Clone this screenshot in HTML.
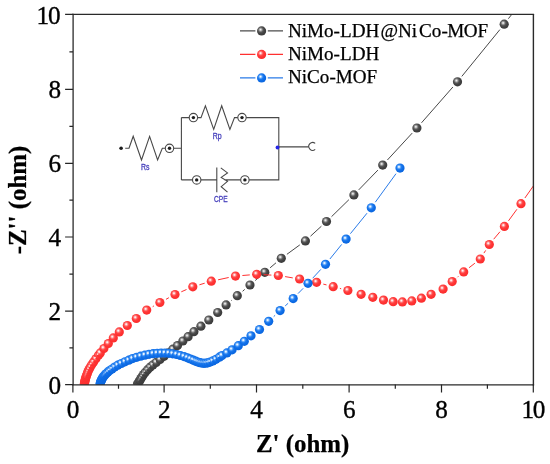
<!DOCTYPE html>
<html><head><meta charset="utf-8"><title>EIS Nyquist plot</title>
<style>
html,body{margin:0;padding:0;background:#fff;}
svg{display:block;}
</style></head><body>
<svg width="550" height="464" viewBox="0 0 550 464">
<defs>
<radialGradient id="gk" cx="0.41" cy="0.39" r="0.66" fx="0.38" fy="0.36">
<stop offset="0" stop-color="#f4f4f4"/><stop offset="0.1" stop-color="#dcdcdc"/><stop offset="0.24" stop-color="#9a9a9a"/><stop offset="0.42" stop-color="#585858"/><stop offset="0.65" stop-color="#424242"/><stop offset="1" stop-color="#3a3a3a"/>
</radialGradient>
<radialGradient id="gr" cx="0.41" cy="0.39" r="0.66" fx="0.38" fy="0.36">
<stop offset="0" stop-color="#ffffff"/><stop offset="0.1" stop-color="#ffe2e2"/><stop offset="0.24" stop-color="#ff8a8a"/><stop offset="0.42" stop-color="#ff4444"/><stop offset="0.65" stop-color="#ff3232"/><stop offset="1" stop-color="#f92d2d"/>
</radialGradient>
<radialGradient id="gb" cx="0.41" cy="0.39" r="0.66" fx="0.38" fy="0.36">
<stop offset="0" stop-color="#ffffff"/><stop offset="0.1" stop-color="#dcecff"/><stop offset="0.24" stop-color="#6fb0fa"/><stop offset="0.42" stop-color="#1f7cef"/><stop offset="0.65" stop-color="#0d6ce6"/><stop offset="1" stop-color="#0b65dd"/>
</radialGradient>
<clipPath id="cp"><rect x="73.0" y="14.2" width="460.3" height="370.3"/></clipPath>
</defs>
<rect width="550" height="464" fill="#fff"/>
<g clip-path="url(#cp)">
<path d="M231.4 300.5L232.0 300.1M242.6 291.3L244.7 289.4M255.2 280.5L259.6 276.8M270.1 267.8L276.0 262.8M286.9 254.3L299.8 244.9M310.5 236.2L321.4 226.2M331.5 216.7L348.9 199.7M358.7 189.9L377.9 170.1M387.4 160.0L412.2 133.1M421.5 122.8L452.9 87.0M461.8 76.4L499.9 29.6M508.4 18.7L550.0 -34.8" stroke="#484848" stroke-width="1.0" fill="none"/>
<circle cx="137.4" cy="384.6" r="4.6" fill="url(#gk)"/>
<circle cx="137.9" cy="383.7" r="4.6" fill="url(#gk)"/>
<circle cx="138.5" cy="382.7" r="4.6" fill="url(#gk)"/>
<circle cx="139.2" cy="381.6" r="4.6" fill="url(#gk)"/>
<circle cx="140.0" cy="380.2" r="4.6" fill="url(#gk)"/>
<circle cx="140.9" cy="378.6" r="4.6" fill="url(#gk)"/>
<circle cx="142.1" cy="376.8" r="4.6" fill="url(#gk)"/>
<circle cx="143.5" cy="374.6" r="4.6" fill="url(#gk)"/>
<circle cx="145.3" cy="372.3" r="4.6" fill="url(#gk)"/>
<circle cx="147.6" cy="369.7" r="4.6" fill="url(#gk)"/>
<circle cx="150.1" cy="367.2" r="4.6" fill="url(#gk)"/>
<circle cx="152.9" cy="364.9" r="4.6" fill="url(#gk)"/>
<circle cx="156.2" cy="362.4" r="4.6" fill="url(#gk)"/>
<circle cx="160.0" cy="359.5" r="4.6" fill="url(#gk)"/>
<circle cx="164.1" cy="356.3" r="4.6" fill="url(#gk)"/>
<circle cx="168.4" cy="352.8" r="4.6" fill="url(#gk)"/>
<circle cx="172.8" cy="349.2" r="4.6" fill="url(#gk)"/>
<circle cx="177.5" cy="345.6" r="4.6" fill="url(#gk)"/>
<circle cx="182.9" cy="341.0" r="4.6" fill="url(#gk)"/>
<circle cx="188.1" cy="336.7" r="4.6" fill="url(#gk)"/>
<circle cx="193.9" cy="331.7" r="4.6" fill="url(#gk)"/>
<circle cx="200.9" cy="326.2" r="4.6" fill="url(#gk)"/>
<circle cx="208.8" cy="320.0" r="4.6" fill="url(#gk)"/>
<circle cx="217.7" cy="312.5" r="4.6" fill="url(#gk)"/>
<circle cx="226.1" cy="304.9" r="4.6" fill="url(#gk)"/>
<circle cx="237.3" cy="295.7" r="4.6" fill="url(#gk)"/>
<circle cx="250.0" cy="285.0" r="4.6" fill="url(#gk)"/>
<circle cx="264.8" cy="272.3" r="4.6" fill="url(#gk)"/>
<circle cx="281.3" cy="258.3" r="4.6" fill="url(#gk)"/>
<circle cx="305.4" cy="240.9" r="4.6" fill="url(#gk)"/>
<circle cx="326.5" cy="221.5" r="4.6" fill="url(#gk)"/>
<circle cx="353.9" cy="194.9" r="4.6" fill="url(#gk)"/>
<circle cx="382.7" cy="165.1" r="4.6" fill="url(#gk)"/>
<circle cx="416.9" cy="128.0" r="4.6" fill="url(#gk)"/>
<circle cx="457.5" cy="81.8" r="4.6" fill="url(#gk)"/>
<circle cx="504.2" cy="24.2" r="4.6" fill="url(#gk)"/>
<circle cx="138.2" cy="380.4" r="0.95" fill="#e6e6e6" fill-opacity="0.19"/>
<circle cx="139.0" cy="379.0" r="0.95" fill="#e6e6e6" fill-opacity="0.36"/>
<circle cx="139.9" cy="377.4" r="0.95" fill="#e6e6e6" fill-opacity="0.58"/>
<circle cx="141.1" cy="375.6" r="0.95" fill="#e6e6e6" fill-opacity="0.80"/>
<circle cx="142.5" cy="373.4" r="0.95" fill="#e6e6e6" fill-opacity="0.90"/>
<circle cx="144.3" cy="371.1" r="0.95" fill="#e6e6e6" fill-opacity="0.90"/>
<circle cx="146.6" cy="368.5" r="0.95" fill="#e6e6e6" fill-opacity="0.90"/>
<circle cx="149.1" cy="366.0" r="0.95" fill="#e6e6e6" fill-opacity="0.90"/>
<circle cx="151.9" cy="363.7" r="0.95" fill="#e6e6e6" fill-opacity="0.90"/>
<circle cx="155.2" cy="361.2" r="0.95" fill="#e6e6e6" fill-opacity="0.90"/>
<circle cx="159.0" cy="358.3" r="0.95" fill="#e6e6e6" fill-opacity="0.90"/>
<circle cx="163.1" cy="355.1" r="0.95" fill="#e6e6e6" fill-opacity="0.90"/>
<circle cx="167.4" cy="351.6" r="0.95" fill="#e6e6e6" fill-opacity="0.90"/>
<circle cx="171.8" cy="348.0" r="0.95" fill="#e6e6e6" fill-opacity="0.90"/>
<path d="M152.7 306.7L153.9 305.9M166.0 299.3L168.9 297.7M181.3 291.8L186.5 289.5M199.4 284.8L204.7 283.2M218.1 279.8L228.7 277.5M242.4 275.5L249.8 274.9M263.6 274.7L271.4 275.1M285.1 276.6L292.8 277.9M306.4 280.3L309.8 281.0M323.3 284.1L326.5 284.9M339.9 288.4L341.2 288.8M457.5 277.2L458.4 276.3M469.1 267.7L474.9 263.2M483.9 253.1L485.7 250.4M493.7 239.2L500.0 231.7M508.5 220.8L516.9 209.3M524.9 198.0L537.4 180.2" stroke="#ff3030" stroke-width="1.0" fill="none"/>
<circle cx="84.3" cy="384.5" r="4.6" fill="url(#gr)"/>
<circle cx="84.4" cy="383.6" r="4.6" fill="url(#gr)"/>
<circle cx="84.6" cy="382.7" r="4.6" fill="url(#gr)"/>
<circle cx="84.8" cy="381.7" r="4.6" fill="url(#gr)"/>
<circle cx="85.0" cy="380.6" r="4.6" fill="url(#gr)"/>
<circle cx="85.3" cy="379.4" r="4.6" fill="url(#gr)"/>
<circle cx="85.7" cy="378.1" r="4.6" fill="url(#gr)"/>
<circle cx="86.1" cy="376.7" r="4.6" fill="url(#gr)"/>
<circle cx="86.6" cy="375.2" r="4.6" fill="url(#gr)"/>
<circle cx="87.3" cy="373.4" r="4.6" fill="url(#gr)"/>
<circle cx="88.0" cy="371.6" r="4.6" fill="url(#gr)"/>
<circle cx="89.0" cy="369.5" r="4.6" fill="url(#gr)"/>
<circle cx="90.2" cy="367.2" r="4.6" fill="url(#gr)"/>
<circle cx="91.7" cy="364.7" r="4.6" fill="url(#gr)"/>
<circle cx="93.6" cy="361.9" r="4.6" fill="url(#gr)"/>
<circle cx="95.9" cy="358.8" r="4.6" fill="url(#gr)"/>
<circle cx="98.5" cy="355.3" r="4.6" fill="url(#gr)"/>
<circle cx="100.3" cy="352.9" r="4.6" fill="url(#gr)"/>
<circle cx="103.9" cy="348.5" r="4.6" fill="url(#gr)"/>
<circle cx="108.3" cy="343.5" r="4.6" fill="url(#gr)"/>
<circle cx="113.3" cy="337.9" r="4.6" fill="url(#gr)"/>
<circle cx="119.3" cy="331.9" r="4.6" fill="url(#gr)"/>
<circle cx="127.3" cy="325.5" r="4.6" fill="url(#gr)"/>
<circle cx="136.3" cy="318.5" r="4.6" fill="url(#gr)"/>
<circle cx="146.7" cy="310.1" r="4.6" fill="url(#gr)"/>
<circle cx="159.9" cy="302.5" r="4.6" fill="url(#gr)"/>
<circle cx="175.0" cy="294.5" r="4.6" fill="url(#gr)"/>
<circle cx="192.8" cy="286.8" r="4.6" fill="url(#gr)"/>
<circle cx="211.3" cy="281.2" r="4.6" fill="url(#gr)"/>
<circle cx="235.5" cy="276.1" r="4.6" fill="url(#gr)"/>
<circle cx="256.7" cy="274.3" r="4.6" fill="url(#gr)"/>
<circle cx="278.3" cy="275.5" r="4.6" fill="url(#gr)"/>
<circle cx="299.6" cy="279.0" r="4.6" fill="url(#gr)"/>
<circle cx="316.6" cy="282.3" r="4.6" fill="url(#gr)"/>
<circle cx="333.2" cy="286.7" r="4.6" fill="url(#gr)"/>
<circle cx="347.9" cy="290.5" r="4.6" fill="url(#gr)"/>
<circle cx="361.1" cy="294.3" r="4.6" fill="url(#gr)"/>
<circle cx="372.8" cy="297.3" r="4.6" fill="url(#gr)"/>
<circle cx="383.5" cy="300.1" r="4.6" fill="url(#gr)"/>
<circle cx="393.2" cy="301.7" r="4.6" fill="url(#gr)"/>
<circle cx="402.4" cy="301.9" r="4.6" fill="url(#gr)"/>
<circle cx="411.8" cy="300.9" r="4.6" fill="url(#gr)"/>
<circle cx="421.4" cy="298.2" r="4.6" fill="url(#gr)"/>
<circle cx="431.1" cy="294.3" r="4.6" fill="url(#gr)"/>
<circle cx="443.1" cy="289.1" r="4.6" fill="url(#gr)"/>
<circle cx="452.2" cy="281.6" r="4.6" fill="url(#gr)"/>
<circle cx="463.7" cy="271.9" r="4.6" fill="url(#gr)"/>
<circle cx="480.3" cy="259.0" r="4.6" fill="url(#gr)"/>
<circle cx="489.3" cy="244.5" r="4.6" fill="url(#gr)"/>
<circle cx="504.4" cy="226.4" r="4.6" fill="url(#gr)"/>
<circle cx="521.0" cy="203.7" r="4.6" fill="url(#gr)"/>
<circle cx="84.7" cy="376.9" r="0.95" fill="#fff0f0" fill-opacity="0.11"/>
<circle cx="85.1" cy="375.5" r="0.95" fill="#fff0f0" fill-opacity="0.22"/>
<circle cx="85.6" cy="374.0" r="0.95" fill="#fff0f0" fill-opacity="0.35"/>
<circle cx="86.3" cy="372.2" r="0.95" fill="#fff0f0" fill-opacity="0.48"/>
<circle cx="87.0" cy="370.4" r="0.95" fill="#fff0f0" fill-opacity="0.63"/>
<circle cx="88.0" cy="368.3" r="0.95" fill="#fff0f0" fill-opacity="0.82"/>
<circle cx="89.2" cy="366.0" r="0.95" fill="#fff0f0" fill-opacity="0.90"/>
<circle cx="90.7" cy="363.5" r="0.95" fill="#fff0f0" fill-opacity="0.90"/>
<circle cx="92.6" cy="360.7" r="0.95" fill="#fff0f0" fill-opacity="0.90"/>
<circle cx="94.9" cy="357.6" r="0.95" fill="#fff0f0" fill-opacity="0.90"/>
<circle cx="97.5" cy="354.1" r="0.95" fill="#fff0f0" fill-opacity="0.90"/>
<circle cx="99.3" cy="351.7" r="0.95" fill="#fff0f0" fill-opacity="0.90"/>
<path d="M273.7 316.6L275.1 315.3M285.2 305.9L288.1 303.3M298.0 293.6L303.2 288.3M312.7 278.2L320.8 269.4M329.9 259.0L341.7 244.4M350.4 233.7L367.0 213.2M375.3 202.2L396.0 173.7" stroke="#2a7be8" stroke-width="1.0" fill="none"/>
<circle cx="100.1" cy="384.5" r="4.6" fill="url(#gb)"/>
<circle cx="100.2" cy="383.7" r="4.6" fill="url(#gb)"/>
<circle cx="100.4" cy="382.8" r="4.6" fill="url(#gb)"/>
<circle cx="100.7" cy="382.0" r="4.6" fill="url(#gb)"/>
<circle cx="101.0" cy="381.1" r="4.6" fill="url(#gb)"/>
<circle cx="101.4" cy="380.2" r="4.6" fill="url(#gb)"/>
<circle cx="101.8" cy="379.2" r="4.6" fill="url(#gb)"/>
<circle cx="102.4" cy="378.2" r="4.6" fill="url(#gb)"/>
<circle cx="103.1" cy="377.1" r="4.6" fill="url(#gb)"/>
<circle cx="104.0" cy="376.0" r="4.6" fill="url(#gb)"/>
<circle cx="105.1" cy="374.8" r="4.6" fill="url(#gb)"/>
<circle cx="106.3" cy="373.5" r="4.6" fill="url(#gb)"/>
<circle cx="107.9" cy="372.1" r="4.6" fill="url(#gb)"/>
<circle cx="109.7" cy="370.6" r="4.6" fill="url(#gb)"/>
<circle cx="112.0" cy="369.0" r="4.6" fill="url(#gb)"/>
<circle cx="114.7" cy="367.1" r="4.6" fill="url(#gb)"/>
<circle cx="117.8" cy="365.2" r="4.6" fill="url(#gb)"/>
<circle cx="121.3" cy="363.5" r="4.6" fill="url(#gb)"/>
<circle cx="125.0" cy="361.8" r="4.6" fill="url(#gb)"/>
<circle cx="128.8" cy="360.2" r="4.6" fill="url(#gb)"/>
<circle cx="132.6" cy="358.6" r="4.6" fill="url(#gb)"/>
<circle cx="136.6" cy="357.3" r="4.6" fill="url(#gb)"/>
<circle cx="140.7" cy="356.2" r="4.6" fill="url(#gb)"/>
<circle cx="144.9" cy="355.2" r="4.6" fill="url(#gb)"/>
<circle cx="149.0" cy="354.3" r="4.6" fill="url(#gb)"/>
<circle cx="153.1" cy="353.7" r="4.6" fill="url(#gb)"/>
<circle cx="157.1" cy="353.3" r="4.6" fill="url(#gb)"/>
<circle cx="161.1" cy="353.1" r="4.6" fill="url(#gb)"/>
<circle cx="165.0" cy="353.1" r="4.6" fill="url(#gb)"/>
<circle cx="168.9" cy="353.3" r="4.6" fill="url(#gb)"/>
<circle cx="172.7" cy="353.8" r="4.6" fill="url(#gb)"/>
<circle cx="176.6" cy="354.5" r="4.6" fill="url(#gb)"/>
<circle cx="180.3" cy="355.5" r="4.6" fill="url(#gb)"/>
<circle cx="184.0" cy="356.6" r="4.6" fill="url(#gb)"/>
<circle cx="187.4" cy="357.8" r="4.6" fill="url(#gb)"/>
<circle cx="190.5" cy="359.0" r="4.6" fill="url(#gb)"/>
<circle cx="193.3" cy="360.2" r="4.6" fill="url(#gb)"/>
<circle cx="195.7" cy="361.2" r="4.6" fill="url(#gb)"/>
<circle cx="197.8" cy="362.0" r="4.6" fill="url(#gb)"/>
<circle cx="199.9" cy="362.7" r="4.6" fill="url(#gb)"/>
<circle cx="201.9" cy="363.1" r="4.6" fill="url(#gb)"/>
<circle cx="203.9" cy="363.3" r="4.6" fill="url(#gb)"/>
<circle cx="205.8" cy="363.2" r="4.6" fill="url(#gb)"/>
<circle cx="207.9" cy="362.8" r="4.6" fill="url(#gb)"/>
<circle cx="210.1" cy="362.1" r="4.6" fill="url(#gb)"/>
<circle cx="212.8" cy="360.9" r="4.6" fill="url(#gb)"/>
<circle cx="216.0" cy="359.3" r="4.6" fill="url(#gb)"/>
<circle cx="219.4" cy="357.2" r="4.6" fill="url(#gb)"/>
<circle cx="222.0" cy="355.6" r="4.6" fill="url(#gb)"/>
<circle cx="226.9" cy="352.9" r="4.6" fill="url(#gb)"/>
<circle cx="232.1" cy="349.8" r="4.6" fill="url(#gb)"/>
<circle cx="238.3" cy="345.7" r="4.6" fill="url(#gb)"/>
<circle cx="244.3" cy="341.3" r="4.6" fill="url(#gb)"/>
<circle cx="251.0" cy="335.8" r="4.6" fill="url(#gb)"/>
<circle cx="259.5" cy="329.5" r="4.6" fill="url(#gb)"/>
<circle cx="268.7" cy="321.3" r="4.6" fill="url(#gb)"/>
<circle cx="280.1" cy="310.6" r="4.6" fill="url(#gb)"/>
<circle cx="293.2" cy="298.6" r="4.6" fill="url(#gb)"/>
<circle cx="308.0" cy="283.3" r="4.6" fill="url(#gb)"/>
<circle cx="325.5" cy="264.3" r="4.6" fill="url(#gb)"/>
<circle cx="346.1" cy="239.1" r="4.6" fill="url(#gb)"/>
<circle cx="371.3" cy="207.8" r="4.6" fill="url(#gb)"/>
<circle cx="400.0" cy="168.1" r="4.6" fill="url(#gb)"/>
<circle cx="102.1" cy="375.9" r="0.95" fill="#eef6ff" fill-opacity="0.08"/>
<circle cx="103.0" cy="374.8" r="0.95" fill="#eef6ff" fill-opacity="0.20"/>
<circle cx="104.1" cy="373.6" r="0.95" fill="#eef6ff" fill-opacity="0.33"/>
<circle cx="105.3" cy="372.3" r="0.95" fill="#eef6ff" fill-opacity="0.49"/>
<circle cx="106.9" cy="370.9" r="0.95" fill="#eef6ff" fill-opacity="0.69"/>
<circle cx="108.7" cy="369.4" r="0.95" fill="#eef6ff" fill-opacity="0.90"/>
<circle cx="111.0" cy="367.8" r="0.95" fill="#eef6ff" fill-opacity="0.90"/>
<circle cx="113.7" cy="365.9" r="0.95" fill="#eef6ff" fill-opacity="0.90"/>
<circle cx="116.8" cy="364.0" r="0.95" fill="#eef6ff" fill-opacity="0.90"/>
<circle cx="120.3" cy="362.3" r="0.95" fill="#eef6ff" fill-opacity="0.90"/>
<circle cx="124.0" cy="360.6" r="0.95" fill="#eef6ff" fill-opacity="0.90"/>
<circle cx="127.8" cy="359.0" r="0.95" fill="#eef6ff" fill-opacity="0.90"/>
<circle cx="131.6" cy="357.4" r="0.95" fill="#eef6ff" fill-opacity="0.90"/>
<circle cx="135.6" cy="356.1" r="0.95" fill="#eef6ff" fill-opacity="0.90"/>
<circle cx="139.7" cy="355.0" r="0.95" fill="#eef6ff" fill-opacity="0.90"/>
<circle cx="143.9" cy="354.0" r="0.95" fill="#eef6ff" fill-opacity="0.90"/>
<circle cx="148.0" cy="353.1" r="0.95" fill="#eef6ff" fill-opacity="0.90"/>
<circle cx="152.1" cy="352.5" r="0.95" fill="#eef6ff" fill-opacity="0.90"/>
<circle cx="156.1" cy="352.1" r="0.95" fill="#eef6ff" fill-opacity="0.90"/>
<circle cx="160.1" cy="351.9" r="0.95" fill="#eef6ff" fill-opacity="0.90"/>
<circle cx="164.0" cy="351.9" r="0.95" fill="#eef6ff" fill-opacity="0.90"/>
<circle cx="167.9" cy="352.1" r="0.95" fill="#eef6ff" fill-opacity="0.90"/>
<circle cx="171.7" cy="352.6" r="0.95" fill="#eef6ff" fill-opacity="0.90"/>
<circle cx="175.6" cy="353.3" r="0.95" fill="#eef6ff" fill-opacity="0.90"/>
<circle cx="179.3" cy="354.3" r="0.95" fill="#eef6ff" fill-opacity="0.90"/>
<circle cx="183.0" cy="355.4" r="0.95" fill="#eef6ff" fill-opacity="0.90"/>
<circle cx="186.4" cy="356.6" r="0.95" fill="#eef6ff" fill-opacity="0.90"/>
<circle cx="189.5" cy="357.8" r="0.95" fill="#eef6ff" fill-opacity="0.90"/>
<circle cx="192.3" cy="359.0" r="0.95" fill="#eef6ff" fill-opacity="0.89"/>
<circle cx="194.7" cy="360.0" r="0.95" fill="#eef6ff" fill-opacity="0.62"/>
<circle cx="196.8" cy="360.8" r="0.95" fill="#eef6ff" fill-opacity="0.55"/>
<circle cx="198.9" cy="361.5" r="0.95" fill="#eef6ff" fill-opacity="0.49"/>
<circle cx="200.9" cy="361.9" r="0.95" fill="#eef6ff" fill-opacity="0.43"/>
<circle cx="202.9" cy="362.1" r="0.95" fill="#eef6ff" fill-opacity="0.39"/>
<circle cx="204.8" cy="362.0" r="0.95" fill="#eef6ff" fill-opacity="0.54"/>
<circle cx="206.9" cy="361.6" r="0.95" fill="#eef6ff" fill-opacity="0.70"/>
<circle cx="209.1" cy="360.9" r="0.95" fill="#eef6ff" fill-opacity="0.90"/>
<circle cx="211.8" cy="359.7" r="0.95" fill="#eef6ff" fill-opacity="0.90"/>
<circle cx="215.0" cy="358.1" r="0.95" fill="#eef6ff" fill-opacity="0.90"/>
<circle cx="218.4" cy="356.0" r="0.95" fill="#eef6ff" fill-opacity="0.90"/>
<circle cx="221.0" cy="354.4" r="0.95" fill="#eef6ff" fill-opacity="0.90"/>
</g>
<path d="M73.1 13.8V385.2" stroke="#2a2a2a" stroke-width="1.3"/>
<path d="M72.5 384.9H534.1" stroke="#2a2a2a" stroke-width="1.3"/>
<path d="M72.5 14.4H534.1" stroke="#2a2a2a" stroke-width="1.1"/>
<path d="M533.4 13.9V385.4" stroke="#2a2a2a" stroke-width="1.4"/>
<path d="M72.9 384.5v7.9M73.0 384.7h-7.9M118.5 384.5v4.3M73.0 347.9h-3.6M164.1 384.5v7.9M73.0 311.1h-7.9M210.3 384.5v4.3M73.0 274.1h-3.6M256.5 384.5v7.9M73.0 237.0h-7.9M302.8 384.5v4.3M73.0 200.2h-3.6M349.1 384.5v7.9M73.0 163.4h-7.9M395.3 384.5v4.3M73.0 126.3h-3.6M441.5 384.5v7.9M73.0 89.3h-7.9M487.4 384.5v4.3M73.0 51.9h-3.6M533.3 384.5v7.9M73.0 14.4h-7.9" stroke="#262626" stroke-width="1.2" fill="none"/>
<g font-family="'Liberation Serif','DejaVu Serif',serif" font-size="25.2" fill="#000" stroke="#000" stroke-width="0.35">
<text x="73.0" y="418.2" text-anchor="middle">0</text>
<text x="61.0" y="393.6" text-anchor="end">0</text>
<text x="164.2" y="418.2" text-anchor="middle">2</text>
<text x="61.0" y="320.0" text-anchor="end">2</text>
<text x="256.6" y="418.2" text-anchor="middle">4</text>
<text x="61.0" y="245.9" text-anchor="end">4</text>
<text x="349.2" y="418.2" text-anchor="middle">6</text>
<text x="61.0" y="172.3" text-anchor="end">6</text>
<text x="441.6" y="418.2" text-anchor="middle">8</text>
<text x="61.0" y="98.2" text-anchor="end">8</text>
<text x="532.8" y="418.2" text-anchor="middle" letter-spacing="-1.2">10</text>
<text x="59.4" y="24.0" text-anchor="end" letter-spacing="-1.2">10</text>
</g>
<g font-family="'Liberation Serif','DejaVu Serif',serif" font-size="24.9" font-weight="bold" fill="#000" stroke="#000" stroke-width="0.25" text-anchor="middle">
<text x="302.7" y="451.5">Z' (ohm)</text>
<text transform="translate(26.4 200) rotate(-90)">-Z'' (ohm)</text>
</g>

<g stroke="#484848" stroke-width="1.1" fill="none" stroke-linejoin="miter">
<path d="M125.2 148.3H129L133.2 136.2L141.5 160L149.6 136.4L157.6 160L162.3 148.3H165.3"/>
<path d="M173.7 148.3H181.4M181.4 117.6V179.9M181.4 117.6H189.2M197.6 117.6H201L205.4 105.8L213.7 129.4L221.7 105.8L229.9 129.4L234.5 117.6H237.8M246.2 117.6H278.8V179.9H249.1M181.4 179.9H192.5M200.9 179.9H216.8M216.8 167.6V192.2M220.8 167.9L227.5 172.9L221.2 177.4L227.5 181.3L221.2 186.7L227.5 192.2M224.5 179.9H240.7M278.8 146.9H308.5"/>
<path d="M315.2 143.4A3.9 3.9 0 1 0 315.2 149.4"/>
<circle cx="169.5" cy="148.3" r="4.2"/><circle cx="193.4" cy="117.6" r="4.2"/><circle cx="242" cy="117.6" r="4.2"/>
<circle cx="196.7" cy="179.9" r="4.2"/><circle cx="244.9" cy="179.9" r="4.2"/>
</g>
<g fill="#1c1c1c">
<circle cx="121.1" cy="148.3" r="1.8"/>
<circle cx="169.5" cy="148.3" r="1.7"/><circle cx="193.4" cy="117.6" r="1.7"/><circle cx="242" cy="117.6" r="1.7"/>
<circle cx="196.7" cy="179.9" r="1.7"/><circle cx="244.9" cy="179.9" r="1.7"/>
</g>
<circle cx="277.5" cy="147.5" r="1.9" fill="#2626e6"/>
<g font-family="'Liberation Sans','DejaVu Sans',sans-serif" font-size="8.7" fill="#4640bc" stroke="#4640bc" stroke-width="0.3">
<text x="141.1" y="169.8" textLength="8.5" lengthAdjust="spacingAndGlyphs">Rs</text><text x="212.8" y="139.2" textLength="8.9" lengthAdjust="spacingAndGlyphs">Rp</text><text x="214.1" y="201.8" textLength="13.6" lengthAdjust="spacingAndGlyphs">CPE</text>
</g>


<g stroke-width="1.3">
<path d="M240 30.9H255.4M267.8 30.9H283" stroke="#4c4c4c"/>
<path d="M240 54.4H255.4M267.8 54.4H283" stroke="#ff3030"/>
<path d="M240 77.9H255.4M267.8 77.9H283" stroke="#2a7be8"/>
</g>
<circle cx="261.6" cy="30.9" r="4.6" fill="url(#gk)"/>
<circle cx="261.6" cy="54.4" r="4.6" fill="url(#gr)"/>
<circle cx="261.6" cy="77.9" r="4.6" fill="url(#gb)"/>
<g font-family="'Liberation Serif','DejaVu Serif',serif" font-size="19.1" fill="#000" stroke="#000" stroke-width="0.25">
<text x="288" y="36.6">NiMo-LDH<tspan dx="1.2">@</tspan>Ni<tspan dx="2">Co-</tspan><tspan dx="-0.6">M</tspan><tspan dx="-0.5">OF</tspan></text>
<text x="288" y="60.1">NiMo-LDH</text>
<text x="288" y="83.4">NiCo-MOF</text>
</g>

</svg>
</body></html>
